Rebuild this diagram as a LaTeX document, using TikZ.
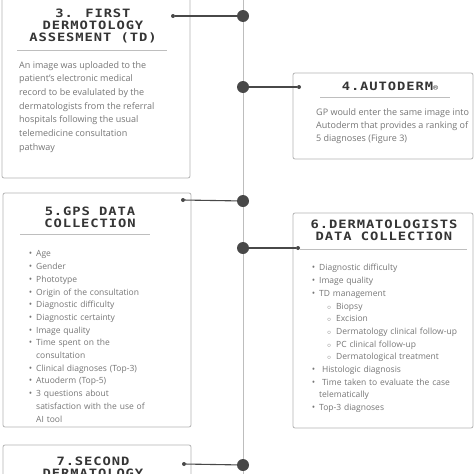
\documentclass[tikz,border=0pt]{standalone}
\usepackage{fontspec}
\setmainfont{Open Sans}
\newfontfamily\headfam{DejaVu Sans Mono}[FakeStretch=1.2, LetterSpace=8]
\usepackage{enumitem}
\usetikzlibrary{positioning}

\definecolor{linegray}{HTML}{BDBDBD}
\definecolor{dotgray}{HTML}{484848}
\definecolor{boxgray}{HTML}{B3B3B3}
\definecolor{rulegray}{HTML}{BEBEBE}
\definecolor{textgray}{HTML}{767676}
\definecolor{titlegray}{HTML}{353535}

\newcommand\headfont{\headfam\bfseries\fontsize{11.5}{11.8}\selectfont}
\newcommand\bodyfont{\fontsize{9}{13.7}\selectfont}
\newcommand\listfont{\fontsize{8.5}{12.7}\selectfont}
\setlist[itemize,1]{label={\small\textbullet}, leftmargin=12pt, labelsep=4pt,
  itemsep=0pt, parsep=0pt, topsep=0pt, partopsep=0pt}
\setlist[itemize,2]{label={\scriptsize$\circ$}, leftmargin=17pt, labelsep=5pt,
  itemsep=0pt, parsep=0pt, topsep=0pt, partopsep=0pt}

\begin{document}
\begin{tikzpicture}[x=1pt,y=-1pt,
  spine/.style={draw=linegray, line width=0.9pt},
  link/.style={draw=dotgray, line width=1.1pt},
  bigdot/.style={circle, fill=dotgray, inner sep=0pt, minimum size=12pt},
  smalldot/.style={circle, fill=dotgray, inner sep=0pt, minimum size=4pt},
  panel/.style={draw=boxgray, line width=0.8pt, rounded corners=2pt, fill=white},
  heading/.style={font=\headfont, text=titlegray, align=center, inner sep=0pt},
  rule/.style={draw=rulegray, line width=0.8pt},
  body/.style={font=\bodyfont, text=textgray, align=left, anchor=north west, inner sep=0pt},
  listbody/.style={font=\listfont, text=textgray, anchor=north west, inner sep=0pt, text width=#1}
]
\fill[white] (0,0) rectangle (474,474);
\useasboundingbox (0,0) rectangle (474,474);
\clip (0,0) rectangle (474,474);

% timeline
\coordinate (top) at (243,-5);
\coordinate (bottom) at (243,480);
\draw[spine] (top) -- (bottom);

% panels
\node[panel, minimum width=188pt, minimum height=190pt] (p3) at (96,83) {};
\node[panel, minimum width=180pt, minimum height=86pt] (p4) at (383,116) {};
\node[panel, minimum width=188pt, minimum height=234pt] (p5) at (97,310) {};
\node[panel, minimum width=180pt, minimum height=215pt] (p6) at (383,320.5) {};
\node[panel, minimum width=188pt, minimum height=80pt] (p7) at (97,485) {};

% 3. first assessment
\node[heading] (t3) at (93,26) {3. FIRST\\DERMOTOLOGY\\ASSESMENT (TD)};
\draw[rule] (17,50) -- (167,50);
\node[body] (d3) at (19,61) {An image was uploaded to the\\
  patient's electronic medical\\
  record to be evalulated by the\\
  dermatologists from the referral\\
  hospitals following the usual\\
  telemedicine consultation\\
  pathway};

% 4. autoderm
\node[heading] (t4) at (390,86) {4.AUTODERM{\fontsize{7}{7}\selectfont\mdseries ®}};
\draw[rule] (320,97) -- (450,97);
\node[body, font=\fontsize{9}{13.3}\selectfont] (d4) at (316,108) {GP would enter the same image into\\
  Autoderm that provides a ranking of\\
  5 diagnoses (Figure 3)};

% 5. GPs data
\node[heading] (t5) at (90,217) {5.GPS DATA\\COLLECTION};
\draw[rule] (20,234) -- (150,234);
\node[listbody=150pt] (d5) at (24,244) {%
  \begin{itemize}
  \item Age
  \item Gender
  \item Phototype
  \item Origin of the consultation
  \item Diagnostic difficulty
  \item Diagnostic certainty
  \item Image quality
  \item Time spent on the\newline consultation
  \item Clinical diagnoses (Top-3)
  \item Atuoderm (Top-5)
  \item 3 questions about\newline satisfaction with the use of\newline AI tool
  \end{itemize}};

% 6. dermatologists data
\node[heading] (t6) at (384,230) {6.DERMATOLOGISTS\\DATA COLLECTION};
\draw[rule] (300,249) -- (467,249);
\node[listbody=160pt] (d6) at (307,258) {%
  \begin{itemize}
  \item Diagnostic difficulty
  \item Image quality
  \item TD management
    \begin{itemize}
    \item Biopsy
    \item Excision
    \item Dermatology clinical follow-up
    \item PC clinical follow-up
    \item Dermatological treatment
    \end{itemize}
  \item \ Histologic diagnosis
  \item \ Time taken to evaluate the case\newline telematically
  \item Top-3 diagnoses
  \end{itemize}};

% 7. second assessment
\node[heading] (t7) at (93,467) {7.SECOND\\DERMATOLOGY};

% dots on the timeline
\node[bigdot] (b3) at (243,16) {};
\node[bigdot] (b4) at (243,87) {};
\node[bigdot] (b5) at (243,201) {};
\node[bigdot] (b6) at (243,248) {};
\node[bigdot] (b7) at (243,465) {};
\node[smalldot] (s3) at (173,16) {};
\node[smalldot] (s4) at (299,87) {};
\node[smalldot] (s5) at (183,200) {};
\node[smalldot] (s6) at (298,248) {};
\node[smalldot] (s7) at (184,464) {};

% connectors
\draw[link] (s3) -- (b3);
\draw[link] (b4) -- (s4);
\draw[link] (s5) -- (b5);
\draw[link] (b6) -- (s6);
\draw[link] (s7) -- (b7);
\end{tikzpicture}
\end{document}
